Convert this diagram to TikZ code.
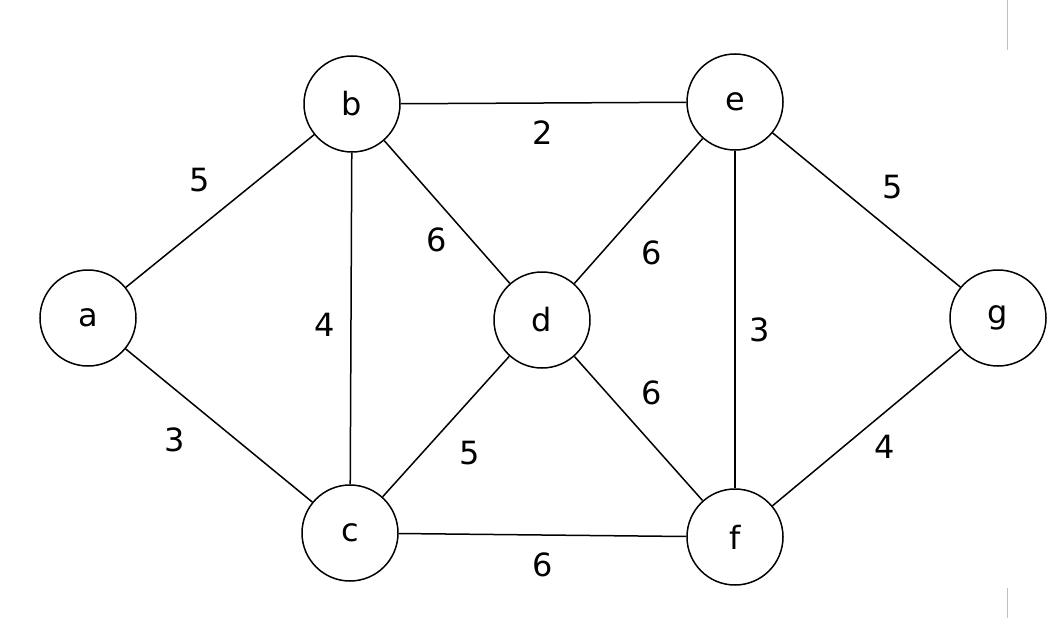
\documentclass[tikz,border=0pt]{standalone}
\usepackage{fontspec}
\setmainfont{DejaVu Sans}
\begin{document}
\begin{tikzpicture}[x=1pt,y=-1pt,
  vert/.style={circle,draw,line width=1.5pt,minimum size=96pt,inner sep=0pt,font=\fontsize{32}{36}\selectfont},
  edge/.style={line width=1.5pt},
  wt/.style={font=\fontsize{32}{36}\selectfont}]
\useasboundingbox (0,0) rectangle (1064,618);
\node[vert] (a) at (88,318) {a};
\node[vert] (b) at (352,104) {b};
\node[vert] (e) at (735,102) {e};
\node[vert] (d) at (542,320) {d};
\node[vert] (g) at (998,318) {g};
\node[vert] (c) at (350,533) {c};
\node[vert] (f) at (735,537) {f};
\draw[edge] (a)--(b); \draw[edge] (a)--(c); \draw[edge] (b)--(e);
\draw[edge] (b)--(c); \draw[edge] (b)--(d); \draw[edge] (e)--(d);
\draw[edge] (e)--(f); \draw[edge] (e)--(g); \draw[edge] (d)--(c);
\draw[edge] (d)--(f); \draw[edge] (c)--(f); \draw[edge] (g)--(f);
\node[wt] (w1) at (200,180) {5};
\node[wt] (w2) at (543,133) {2};
\node[wt] (w3) at (893,187) {5};
\node[wt] (w4) at (437,240) {6};
\node[wt] (w5) at (652,253) {6};
\node[wt] (w6) at (325,325) {4};
\node[wt] (w7) at (760,330) {3};
\node[wt] (w8) at (175,440) {3};
\node[wt] (w9) at (470,453) {5};
\node[wt] (w10) at (652,393) {6};
\node[wt] (w11) at (885,447) {4};
\node[wt] (w12) at (543,565) {6};
\coordinate (t1) at (1007,0); \coordinate (t2) at (1007,50);
\coordinate (u1) at (1007,588); \coordinate (u2) at (1007,618);
\draw[gray!50,line width=1pt] (t1)--(t2);
\draw[gray!50,line width=1pt] (u1)--(u2);
\end{tikzpicture}
\end{document}
